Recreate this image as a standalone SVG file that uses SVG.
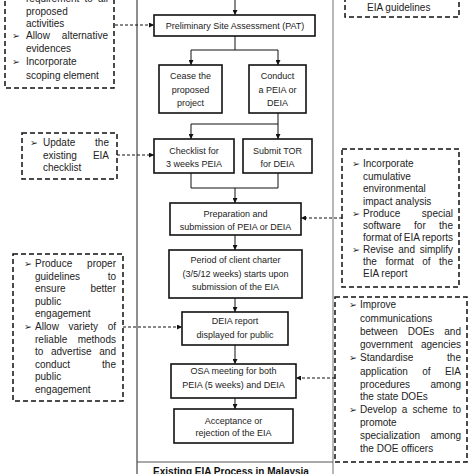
<svg xmlns="http://www.w3.org/2000/svg" width="474" height="474" viewBox="0 0 474 474">
<defs>
<marker id="ah" viewBox="0 0 6 6" refX="6" refY="3" markerWidth="5" markerHeight="5" markerUnits="userSpaceOnUse" orient="auto">
<path d="M0,0 L6,3 L0,6 z" fill="#111"/>
</marker>
<style>
.node rect{fill:#fff;stroke:#111;stroke-width:1.6}
.node text{font-family:"Liberation Sans",Arial,sans-serif;font-size:9px;fill:#222;text-anchor:middle}
.note rect{fill:#fff;stroke:#111;stroke-width:1.5;stroke-dasharray:5,3}
.note text{font-family:"Liberation Sans",Arial,sans-serif;font-size:10px;fill:#222}
.note .r{text-anchor:end}
.note .b{font-family:"DejaVu Sans",sans-serif;font-size:9.5px}
.flow path{fill:none;stroke:#111;stroke-width:1}
.flow .d{stroke-dasharray:3,2}
.frame line{stroke-width:1.2}
</style>
</defs>
<rect width="474" height="474" fill="#fff"/>
<g class="frame">
<line x1="137" y1="0" x2="137" y2="474" stroke="#444"/>
<line x1="333" y1="0" x2="333" y2="474" stroke="#888" stroke-width="1.6"/>
<line x1="137" y1="462" x2="333" y2="462" stroke="#555"/>
<text x="231" y="475" text-anchor="middle" font-family="Liberation Sans,Arial,sans-serif" font-size="10" font-weight="bold" fill="#111">Existing EIA Process in Malaysia</text>
</g>
<g class="flow">
<path d="M235,0 V15" marker-end="url(#ah)"/>
<path d="M235,36 V50 M191,50 H278"/>
<path d="M191,50 V65" marker-end="url(#ah)"/>
<path d="M278,50 V65" marker-end="url(#ah)"/>
<path d="M278,113 V124 M191,124 H278"/>
<path d="M191,124 V139" marker-end="url(#ah)"/>
<path d="M278,124 V139" marker-end="url(#ah)"/>
<path d="M191,173 V188 H278 V173"/>
<path d="M235,188 V203" marker-end="url(#ah)"/>
<path d="M235,235 V250" marker-end="url(#ah)"/>
<path d="M235,298 V312" marker-end="url(#ah)"/>
<path d="M235,345 V364" marker-end="url(#ah)"/>
<path d="M235,398 V409" marker-end="url(#ah)"/>
<path class="d" d="M115,25 H154" marker-end="url(#ah)"/>
<path class="d" d="M117,155 H154" marker-end="url(#ah)"/>
<path class="d" d="M342,218 H301" marker-end="url(#ah)"/>
<path class="d" d="M123,327 H182" marker-end="url(#ah)"/>
<path class="d" d="M335,378 H296" marker-end="url(#ah)"/>
</g>
<g id="pat" class="node"><rect x="154" y="15" width="161" height="21"/><text x="235" y="29">Preliminary Site Assessment (PAT)</text></g>
<g id="cease" class="node"><rect x="159" y="65" width="63" height="48"/><text x="190.5" y="79">Cease the</text><text x="190.5" y="92.5">proposed</text><text x="190.5" y="106">project</text></g>
<g id="conduct" class="node"><rect x="249" y="65" width="57" height="48"/><text x="277.5" y="79">Conduct</text><text x="277.5" y="92.5">a PEIA or</text><text x="277.5" y="106">DEIA</text></g>
<g id="checklist" class="node"><rect x="154" y="139" width="80" height="34"/><text x="194" y="154">Checklist for</text><text x="194" y="167">3 weeks PEIA</text></g>
<g id="tor" class="node"><rect x="243" y="139" width="69" height="34"/><text x="277.5" y="154">Submit TOR</text><text x="277.5" y="167">for DEIA</text></g>
<g id="prep" class="node"><rect x="170" y="203" width="131" height="32"/><text x="235.5" y="217">Preparation and</text><text x="235.5" y="230">submission of PEIA or DEIA</text></g>
<g id="period" class="node"><rect x="169" y="250" width="133" height="48"/><text x="235.5" y="263">Period of client charter</text><text x="235.5" y="277">(3/5/12 weeks) starts upon</text><text x="235.5" y="290">submission of the EIA</text></g>
<g id="display" class="node"><rect x="182" y="312" width="106" height="33"/><text x="235" y="324">DEIA report</text><text x="235" y="337.5">displayed for public</text></g>
<g id="osa" class="node"><rect x="171" y="364" width="125" height="34"/><text x="233.5" y="374">OSA meeting for both</text><text x="233.5" y="388">PEIA (5 weeks) and DEIA</text></g>
<g id="accept" class="node"><rect x="174" y="409" width="119" height="34"/><text x="233.5" y="424">Acceptance or</text><text x="233.5" y="436">rejection of the EIA</text></g>
<g id="note-scoping" class="note"><rect x="5" y="-20" width="109" height="108"/>
<text x="26" y="2">requirement</text><text x="84.5" y="2">to</text><text class="r" x="108" y="2">all</text>
<text x="26" y="15">proposed</text>
<text x="26" y="27">activities</text>
<text class="b" x="12" y="39">➢</text><text x="26" y="39">Allow</text><text class="r" x="108" y="39">alternative</text>
<text x="26" y="52">evidences</text>
<text class="b" x="12" y="65">➢</text><text x="26" y="65">Incorporate</text>
<text x="26" y="79">scoping element</text>
</g>
<g id="note-guidelines" class="note"><rect x="345" y="-20" width="114" height="37"/>
<text x="367" y="11">EIA guidelines</text>
</g>
<g id="note-checklist" class="note"><rect x="22" y="133" width="95" height="46"/>
<text class="b" x="30" y="146">➢</text><text x="43" y="146">Update</text><text class="r" x="109" y="146">the</text>
<text x="43" y="159">existing</text><text class="r" x="109" y="159">EIA</text>
<text x="43" y="171">checklist</text>
</g>
<g id="note-report" class="note"><rect x="342" y="149" width="117" height="138"/>
<text class="b" x="352" y="167">➢</text><text x="363" y="167">Incorporate</text>
<text x="363" y="179.5">cumulative</text>
<text x="363" y="192">environmental</text>
<text x="363" y="204.5">impact analysis</text>
<text class="b" x="352" y="217">➢</text><text x="363" y="217">Produce</text><text class="r" x="453" y="217">special</text>
<text x="363" y="229">software</text><text x="414.1" y="229">for</text><text class="r" x="453" y="229">the</text>
<text x="363" y="241">format</text><text x="393.4" y="241">of</text><text x="403.8" y="241">EIA</text><text class="r" x="453" y="241">reports</text>
<text class="b" x="352" y="253">➢</text><text x="363" y="253">Revise</text><text x="398.3" y="253">and</text><text class="r" x="453" y="253">simplify</text>
<text x="363" y="265">the</text><text x="385.4" y="265">format</text><text x="422.2" y="265">of</text><text class="r" x="453" y="265">the</text>
<text x="363" y="277">EIA report</text>
</g>
<g id="note-public" class="note"><rect x="13" y="254" width="110" height="147"/>
<text class="b" x="24" y="267">➢</text><text x="35" y="267">Produce</text><text class="r" x="116" y="267">proper</text>
<text x="35" y="279.6">guidelines</text><text class="r" x="116" y="279.6">to</text>
<text x="35" y="292.2">ensure</text><text class="r" x="116" y="292.2">better</text>
<text x="35" y="304.8">public</text>
<text x="35" y="317.4">engagement</text>
<text class="b" x="24" y="330">➢</text><text x="35" y="330">Allow</text><text x="68.5" y="330">variety</text><text class="r" x="116" y="330">of</text>
<text x="35" y="342.6">reliable</text><text class="r" x="116" y="342.6">methods</text>
<text x="35" y="355.2">to</text><text x="51" y="355.2">advertise</text><text class="r" x="116" y="355.2">and</text>
<text x="35" y="367.8">conduct</text><text class="r" x="116" y="367.8">the</text>
<text x="35" y="380.4">public</text>
<text x="35" y="393">engagement</text>
</g>
<g id="note-doe" class="note"><rect x="335" y="297" width="132" height="165"/>
<text class="b" x="349" y="308">➢</text><text x="360" y="308">Improve</text>
<text x="360" y="321.5">communications</text>
<text x="360" y="334.5">between</text><text x="407.7" y="334.5">DOEs</text><text class="r" x="461" y="334.5">and</text>
<text x="360" y="347.5">government</text><text class="r" x="461" y="347.5">agencies</text>
<text class="b" x="349" y="361">➢</text><text x="360" y="361">Standardise</text><text class="r" x="461" y="361">the</text>
<text x="360" y="374.5">application</text><text x="422.2" y="374.5">of</text><text class="r" x="461" y="374.5">EIA</text>
<text x="360" y="387.5">procedures</text><text class="r" x="461" y="387.5">among</text>
<text x="360" y="400">the state DOEs</text>
<text class="b" x="349" y="413">➢</text><text x="360" y="413">Develop</text><text x="401.8" y="413">a</text><text x="412.5" y="413">scheme</text><text class="r" x="461" y="413">to</text>
<text x="360" y="426">promote</text>
<text x="360" y="439">specialization</text><text class="r" x="461" y="439">among</text>
<text x="360" y="452">the DOE officers</text>
</g>
</svg>
